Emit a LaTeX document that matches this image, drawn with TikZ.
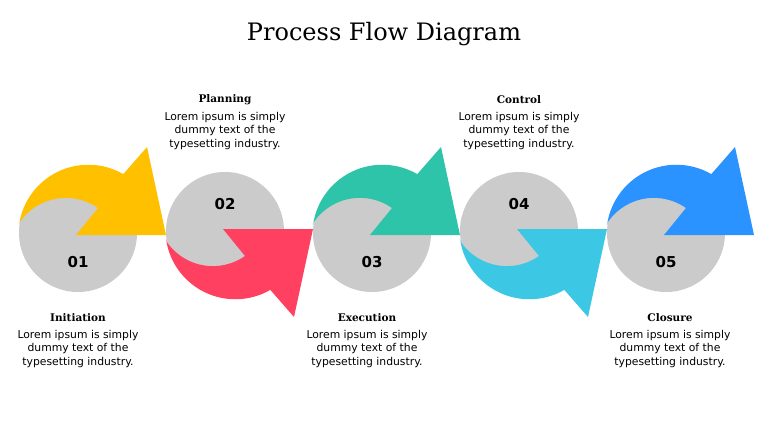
\documentclass[tikz,border=0pt]{standalone}
\usepackage{fontspec}
\setmainfont{DejaVu Serif}
\setsansfont{DejaVu Sans}
\begin{document}
\begin{tikzpicture}[x=1pt,y=-1pt,
  num/.style={font=\sffamily\bfseries\fontsize{15}{17}\selectfont},
  head/.style={font=\bfseries\fontsize{10.5}{12}\selectfont},
  body/.style={font=\sffamily\fontsize{10.8}{13.8}\selectfont,align=center}]
\definecolor{cA}{HTML}{FFC000}\definecolor{cB}{HTML}{FF4060}
\definecolor{cC}{HTML}{2EC4AA}\definecolor{cD}{HTML}{3CC8E4}
\definecolor{cE}{HTML}{2A93FF}\definecolor{gr}{HTML}{CBCBCB}
\fill[white] (0,0) rectangle (768,433);
\useasboundingbox (0,0) rectangle (768,433);
\node[font=\fontsize{24}{26}\selectfont] (title) at (384,34) {Process Flow Diagram};
\newcommand{\arrowshape}[1]{%
  \fill[gr] (78,233) circle[radius=59];
  \fill[#1] (19,225) arc[start angle=188,end angle=300,radius=70]
    -- (147,147) -- (166,235) -- (76,235) -- (98,208)
    arc[start angle=305,end angle=213,radius=56] -- cycle;}
\foreach \i/\c/\f in {0/cA/0,1/cB/1,2/cC/0,3/cD/1,4/cE/0}{
  \ifnum\f=0
    \begin{scope}[shift={(147*\i,0)}]\arrowshape{\c}\end{scope}
  \else
    \begin{scope}[shift={(147*\i,464)},yscale=-1]\arrowshape{\c}\end{scope}
  \fi}
\node[num] (n1) at (78,262) {01};
\node[num] (n2) at (225,204) {02};
\node[num] (n3) at (372,262) {03};
\node[num] (n4) at (519,204) {04};
\node[num] (n5) at (666,262) {05};
\node[head] (h1) at (78,318) {Initiation};
\node[head] (h2) at (225,100) {Planning};
\node[head] (h3) at (367,318) {Execution};
\node[head] (h4) at (519,100) {Control};
\node[head] (h5) at (670,318) {Closure};
\node[body] (b1) at (78,349) {Lorem ipsum is simply\\dummy text of the\\typesetting industry.};
\node[body] (b2) at (225,131) {Lorem ipsum is simply\\dummy text of the\\typesetting industry.};
\node[body] (b3) at (367,349) {Lorem ipsum is simply\\dummy text of the\\typesetting industry.};
\node[body] (b4) at (519,131) {Lorem ipsum is simply\\dummy text of the\\typesetting industry.};
\node[body] (b5) at (670,349) {Lorem ipsum is simply\\dummy text of the\\typesetting industry.};
\end{tikzpicture}
\end{document}
